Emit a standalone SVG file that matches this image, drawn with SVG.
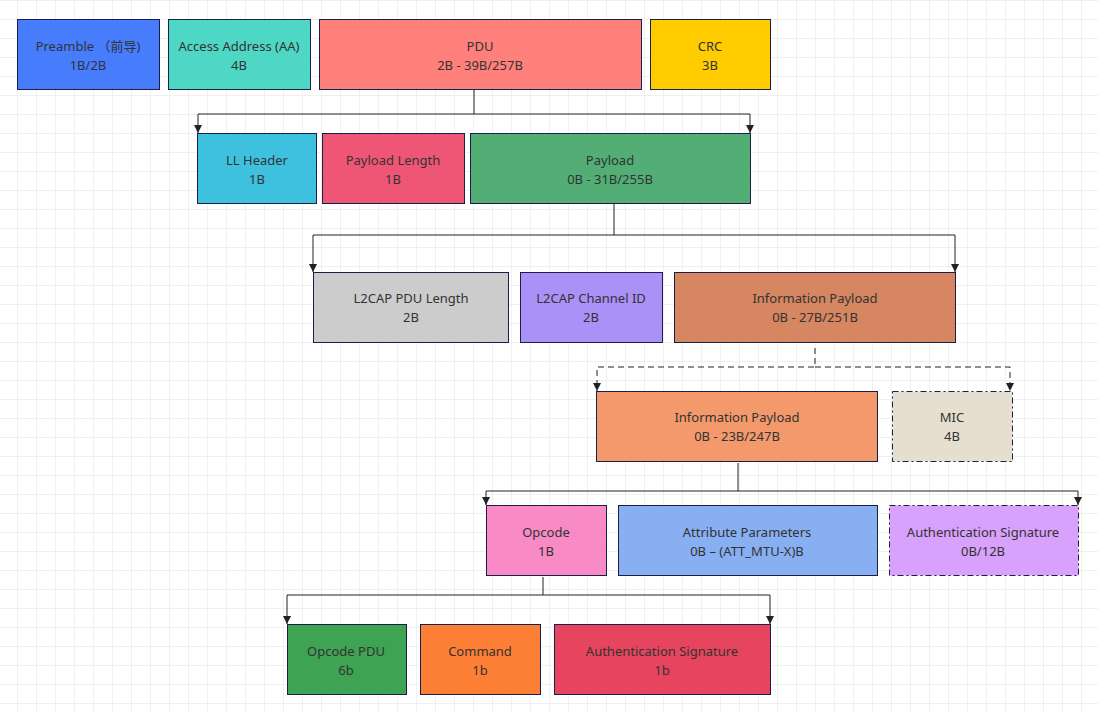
<svg xmlns="http://www.w3.org/2000/svg" width="1098" height="712" viewBox="0 0 1098 712">
<defs>
<pattern id="grid" x="17" y="0" width="19" height="19" patternUnits="userSpaceOnUse"><path d="M0 0H19M0 0V19" fill="none" stroke="#e2e2e2" stroke-width="1"/></pattern>
<marker id="ah" viewBox="0 0 10 10" refX="10" refY="5" markerWidth="8" markerHeight="8" markerUnits="userSpaceOnUse" orient="auto"><path d="M0 0L10 5L0 10z" fill="#222"/></marker>
<style>
.b{stroke:#1a1f4a;stroke-width:1}
.dd{stroke-dasharray:6 3 2 3}
text{font-family:"Noto Sans","Noto Sans CJK SC",sans-serif;font-size:13px;fill:#333;text-anchor:middle}
.c{fill:none;stroke:#222;stroke-width:1}
.dash{stroke-dasharray:6 4}
</style>
</defs>
<rect width="1098" height="712" fill="#fff"/>
<rect width="1098" height="712" fill="url(#grid)"/>
<g id="connectors">
<path class="c" d="M474 89V114H198V133" marker-end="url(#ah)"/><path class="c" d="M474 114H750V133" marker-end="url(#ah)"/>
<path class="c" d="M614 203V235H313V272" marker-end="url(#ah)"/><path class="c" d="M614 235H955V272" marker-end="url(#ah)"/>
<path class="c dash" d="M815 348V367H597V391" marker-end="url(#ah)"/><path class="c dash" d="M815 367H1010V391" marker-end="url(#ah)"/>
<path class="c" d="M738 463V491H486V505" marker-end="url(#ah)"/><path class="c" d="M738 491H1078V505" marker-end="url(#ah)"/>
<path class="c" d="M543 577V595H287V624" marker-end="url(#ah)"/><path class="c" d="M543 595H770V624" marker-end="url(#ah)"/>
</g>
<g id="preamble"><rect class="b" x="17.5" y="19.5" width="142" height="70" fill="#477dfd"/><text x="88" y="51">Preamble （前导)</text><text x="88" y="70">1B/2B</text></g>
<g id="aa"><rect class="b" x="168.5" y="19.5" width="142" height="70" fill="#4fd7c5"/><text x="239" y="51">Access Address (AA)</text><text x="239" y="70">4B</text></g>
<g id="pdu"><rect class="b" x="319.5" y="19.5" width="322" height="70" fill="#ff807a"/><text x="480" y="51">PDU</text><text x="480" y="70">2B - 39B/257B</text></g>
<g id="crc"><rect class="b" x="650.5" y="19.5" width="120" height="70" fill="#ffcc00"/><text x="710" y="51">CRC</text><text x="710" y="70">3B</text></g>
<g id="llh"><rect class="b" x="197.5" y="133.5" width="119" height="70" fill="#3ec1df"/><text x="257" y="165">LL Header</text><text x="257" y="184">1B</text></g>
<g id="plen"><rect class="b" x="322.5" y="133.5" width="142" height="70" fill="#ef5675"/><text x="393" y="165">Payload Length</text><text x="393" y="184">1B</text></g>
<g id="payload"><rect class="b" x="470.5" y="133.5" width="280" height="70" fill="#52ae75"/><text x="610" y="165">Payload</text><text x="610" y="184">0B - 31B/255B</text></g>
<g id="l2len"><rect class="b" x="313.5" y="272.5" width="195" height="70" fill="#cccccc"/><text x="411" y="303">L2CAP PDU Length</text><text x="411" y="322">2B</text></g>
<g id="l2cid"><rect class="b" x="520.5" y="272.5" width="142" height="70" fill="#a991f7"/><text x="591" y="303">L2CAP Channel ID</text><text x="591" y="322">2B</text></g>
<g id="info1"><rect class="b" x="674.5" y="272.5" width="281" height="70" fill="#d68660"/><text x="815" y="303">Information Payload</text><text x="815" y="322">0B - 27B/251B</text></g>
<g id="info2"><rect class="b" x="596.5" y="391.5" width="281" height="70" fill="#f3996c"/><text x="737" y="422">Information Payload</text><text x="737" y="441">0B - 23B/247B</text></g>
<g id="mic"><rect class="b dd" x="892.5" y="391.5" width="120" height="70" fill="#e6dfd0"/><text x="952" y="422">MIC</text><text x="952" y="441">4B</text></g>
<g id="opcode"><rect class="b" x="486.5" y="505.5" width="120" height="70" fill="#f88ac6"/><text x="546" y="537">Opcode</text><text x="546" y="556">1B</text></g>
<g id="attr"><rect class="b" x="618.5" y="505.5" width="259" height="70" fill="#87aff2"/><text x="747" y="537">Attribute Parameters</text><text x="747" y="556">0B – (ATT_MTU-X)B</text></g>
<g id="authsig1"><rect class="b dd" x="889.5" y="505.5" width="189" height="70" fill="#d8a1fb"/><text x="983" y="537">Authentication Signature</text><text x="983" y="556">0B/12B</text></g>
<g id="oppdu"><rect class="b" x="287.5" y="624.5" width="119" height="70" fill="#3fa354"/><text x="346" y="656">Opcode PDU</text><text x="346" y="675">6b</text></g>
<g id="cmd"><rect class="b" x="420.5" y="624.5" width="120" height="70" fill="#fd7e35"/><text x="480" y="656">Command</text><text x="480" y="675">1b</text></g>
<g id="authsig2"><rect class="b" x="554.5" y="624.5" width="216" height="70" fill="#e7445f"/><text x="662" y="656">Authentication Signature</text><text x="662" y="675">1b</text></g>
</svg>
